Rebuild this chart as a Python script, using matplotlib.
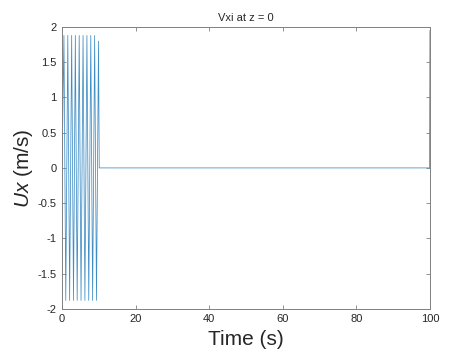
import matplotlib
matplotlib.use("Agg")
import matplotlib.pyplot as plt

plt.rcParams['font.family'] = ['Liberation Sans', 'DejaVu Sans']
plt.rcParams['mathtext.fontset'] = 'custom'
plt.rcParams['mathtext.it'] = 'Liberation Sans:italic'
plt.rcParams['mathtext.rm'] = 'Liberation Sans'

# Oscillation extrema
peak_t = [0.5, 1.55, 2.6, 3.6, 4.65, 5.7, 6.75, 7.8, 8.85, 9.9]
peak_v = [1.88, 1.88, 1.88, 1.88, 1.88, 1.88, 1.88, 1.88, 1.88, 1.80]
trough_t = [1.0, 2.05, 3.1, 4.1, 5.15, 6.2, 7.25, 8.3, 9.35]
trough_v = [-1.88, -1.88, -1.88, -1.88, -1.88, -1.88, -1.88, -1.88, -1.88]
# Flat section and the jump at the end
tail_t = [0.0, 10.1, 99.9, 100.0]
tail_v = [0.0, 0.0, 0.0, 1.95]

xticks = [0, 20, 40, 60, 80, 100]
yticks = [-2, -1.5, -1, -0.5, 0, 0.5, 1, 1.5, 2]

pts = [(tail_t[0], tail_v[0])]
for i in range(len(peak_t)):
    pts.append((peak_t[i], peak_v[i]))
    if i < len(trough_t):
        pts.append((trough_t[i], trough_v[i]))
pts += list(zip(tail_t[1:], tail_v[1:]))
t = [p[0] for p in pts]
v = [p[1] for p in pts]

fig = plt.figure(figsize=(4.74, 3.55), dpi=100)
ax = fig.add_axes([0.131, 0.130, 0.776, 0.794])
ax.plot(t, v, color='#3d8cc4', linewidth=0.55)
ax.set_xlim(0, 100)
ax.set_ylim(-2, 2)
ax.set_xticks(xticks)
ax.set_yticks(yticks)
ax.set_xticklabels([str(x) for x in xticks])
ax.set_yticklabels(['%g' % y for y in yticks])
ax.tick_params(direction='in', top=True, right=True, labelsize=8,
               labelcolor='#262626', color='#808080', length=3, width=0.6, pad=4)
for s in ax.spines.values():
    s.set_color('#808080')
    s.set_linewidth(0.7)
ax.set_title('Vxi at z = 0', fontsize=8, color='#262626', pad=4)
ax.set_xlabel('Time (s)', fontsize=15, color='#262626', labelpad=4)
ax.set_ylabel('$Ux$ (m/s)', fontsize=15, color='#262626', labelpad=2)

fig.savefig('out.png', dpi=100)
